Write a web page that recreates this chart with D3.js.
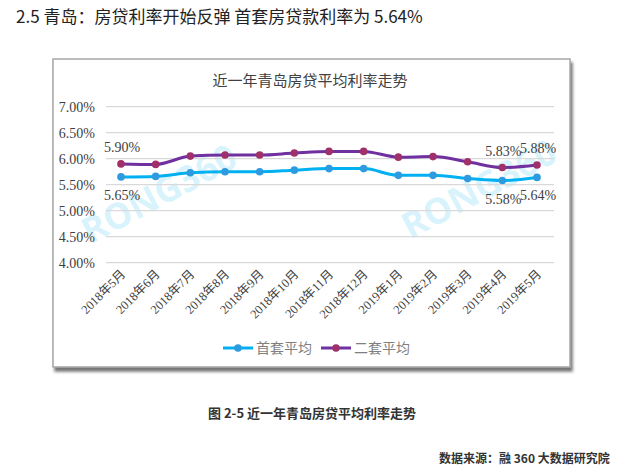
<!DOCTYPE html>
<html>
<head>
<meta charset="utf-8">
<script src="https://cdn.jsdelivr.net/npm/d3@7"></script>
<style>
  body { margin: 0; background: #fff; }
  .num { font-family: "Liberation Serif", "DejaVu Serif", "Noto Sans CJK SC", serif; }
  .cjk { font-family: "Noto Sans CJK SC", sans-serif; }
</style>
</head>
<body>
<div id="chart"></div>
<script>
// Data
const months = ["2018年5月", "2018年6月", "2018年7月", "2018年8月", "2018年9月", "2018年10月",
    "2018年11月", "2018年12月", "2019年1月", "2019年2月", "2019年3月", "2019年4月", "2019年5月"];
const firstHome = [5.65, 5.66, 5.73, 5.75, 5.75, 5.78, 5.81, 5.81, 5.68, 5.68, 5.62, 5.58, 5.64];
const secondHome = [5.90, 5.89, 6.05, 6.07, 6.07, 6.11, 6.14, 6.14, 6.03, 6.04, 5.94, 5.83, 5.88];
const yTicks = [4.0, 4.5, 5.0, 5.5, 6.0, 6.5, 7.0];
const labelIdx = [0, 11, 12];

const W = 640, H = 474;
const svg = d3.select("#chart").append("svg")
    .attr("width", W)
    .attr("height", H);

// Shadow for the chart frame
const defs = svg.append("defs");
const f = defs.append("filter").attr("id", "shadow")
    .attr("x", "-5%").attr("y", "-5%").attr("width", "115%").attr("height", "115%");
f.append("feDropShadow")
    .attr("dx", 2).attr("dy", 4).attr("stdDeviation", 1.8)
    .attr("flood-color", "#666").attr("flood-opacity", 0.9);

// Page heading
svg.append("text")
    .attr("class", "cjk")
    .attr("x", 16).attr("y", 23)
    .attr("font-size", 17)
    .attr("fill", "#222")
    .text("2.5 青岛：房贷利率开始反弹 首套房贷款利率为 5.64%");

// Frame
svg.append("rect")
    .attr("x", 53).attr("y", 59)
    .attr("width", 517).attr("height", 308)
    .attr("fill", "#fff")
    .attr("stroke", "#a6a6a6")
    .attr("stroke-width", 1.5)
    .attr("filter", "url(#shadow)");

// Scales
const x = d3.scalePoint().domain(months).range([121, 537]);
const y = d3.scaleLinear().domain([4, 7]).range([262.7, 106.7]);
const gx0 = 106, gx1 = 554;

// Watermarks
[[165, 205], [485, 200]].forEach(([wx, wy]) => {
    svg.append("text")
        .attr("transform", `translate(${wx},${wy}) rotate(-28)`)
        .attr("text-anchor", "middle")
        .attr("font-size", 36)
        .attr("font-weight", 700)
        .attr("fill", "#cdf0fb")
        .attr("opacity", 0.75)
        .style("font-family", "'Open Sans', sans-serif")
        .text("RONG360");
});

// Chart title
svg.append("text")
    .attr("class", "cjk")
    .attr("x", 310).attr("y", 86)
    .attr("text-anchor", "middle")
    .attr("font-size", 15)
    .attr("fill", "#404040")
    .text("近一年青岛房贷平均利率走势");

// Gridlines + y labels
const yAxis = svg.append("g");
yAxis.selectAll("line").data(yTicks).join("line")
    .attr("x1", gx0).attr("x2", gx1)
    .attr("y1", d => y(d)).attr("y2", d => y(d))
    .attr("stroke", "#d9d9d9").attr("stroke-width", 1.2);
yAxis.selectAll("text").data(yTicks).join("text")
    .attr("class", "num")
    .attr("x", 95).attr("y", d => y(d) + 5)
    .attr("text-anchor", "end")
    .attr("font-size", 14)
    .attr("fill", "#404040")
    .text(d => d.toFixed(2) + "%");

// X labels
svg.append("g").selectAll("text").data(months).join("text")
    .attr("class", "num")
    .attr("transform", d => `translate(${x(d) + 5},${275}) rotate(-45)`)
    .attr("text-anchor", "end")
    .attr("font-size", 12.5)
    .attr("fill", "#404040")
    .text(d => d);

// Lines
const series = [
    { name: "首套平均", values: firstHome, line: "#00b0f0", dot: "#2e9be0", pos: "below" },
    { name: "二套平均", values: secondHome, line: "#7030a0", dot: "#a0306a", pos: "above" }
];
const line = d3.line()
    .x((d, i) => x(months[i]))
    .y(d => y(d))
    .curve(d3.curveMonotoneX);

series.forEach(s => {
    svg.append("path")
        .datum(s.values)
        .attr("d", line)
        .attr("fill", "none")
        .attr("stroke", s.line)
        .attr("stroke-width", 3);
    svg.append("g").selectAll("circle").data(s.values).join("circle")
        .attr("cx", (d, i) => x(months[i]))
        .attr("cy", d => y(d))
        .attr("r", 3.8)
        .attr("fill", s.dot);
    svg.append("g").selectAll("text").data(labelIdx).join("text")
        .attr("class", "num")
        .attr("x", i => x(months[i]) + 1)
        .attr("y", i => s.pos === "above" ? y(s.values[i]) - 12 : y(s.values[i]) + 23)
        .attr("text-anchor", "middle")
        .attr("font-size", 14)
        .attr("fill", "#404040")
        .text(i => s.values[i].toFixed(2) + "%");
});

// Legend
const legend = svg.append("g");
const lx = [223, 321];
series.forEach((s, i) => {
    const g = legend.append("g").attr("transform", `translate(${lx[i]},348)`);
    g.append("line").attr("x1", 0).attr("x2", 30)
        .attr("stroke", s.line).attr("stroke-width", 3);
    g.append("circle").attr("cx", 15).attr("r", 3.8).attr("fill", s.dot);
    g.append("text")
        .attr("class", "cjk")
        .attr("x", 33).attr("y", 5)
        .attr("font-size", 14)
        .attr("fill", "#7f7f7f")
        .text(s.name);
});

// Caption and source
svg.append("text")
    .attr("class", "cjk")
    .attr("x", 208).attr("y", 418)
    .attr("font-size", 13)
    .attr("font-weight", 700)
    .attr("fill", "#333")
    .text("图 2-5 近一年青岛房贷平均利率走势");

svg.append("text")
    .attr("class", "cjk")
    .attr("x", 439).attr("y", 463)
    .attr("font-size", 12)
    .attr("font-weight", 700)
    .attr("fill", "#333")
    .text("数据来源：融 360 大数据研究院");
</script>
</body>
</html>
